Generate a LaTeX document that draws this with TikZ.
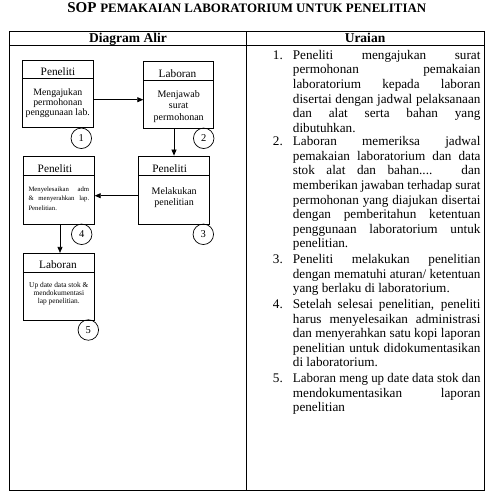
\documentclass[tikz,border=0pt]{standalone}
\usepackage{fontspec}
\setmainfont{Liberation Serif}
\usepackage{graphicx}
\usetikzlibrary{arrows.meta}
\newlength\lw
\newsavebox\jlbox
\newcommand\jl[1]{\sbox\jlbox{#1}\ifdim\wd\jlbox>\lw\hbox{\resizebox{\lw}{\height}{\usebox\jlbox}}\else\hbox to\lw{\unhcopy\jlbox}\fi}
\newcommand\jlast[1]{\hbox{#1}}
\newcommand\itemfont{\fontsize{13.2}{14.6}\selectfont\lw=187.6pt\lineskiplimit=-20pt}
\hbadness=10000
\begin{document}
\begin{tikzpicture}[x=1pt,y=-1pt,
  tbl/.style={line width=1pt},
  boxs/.style={draw, line width=0.8pt, rectangle, inner sep=0pt},
  divl/.style={line width=0.8pt},
  num/.style={draw, circle, line width=0.7pt, minimum size=20.5pt, inner sep=0pt, font=\fontsize{10.5}{12}\selectfont},
  arr/.style={line width=0.7pt, -{Triangle[length=6pt,width=5pt]}},
  hd/.style={anchor=base, inner sep=0pt, font=\fontsize{11.3}{13}\selectfont},
  body/.style={align=center, inner sep=0pt},
  inum/.style={anchor=base west, inner sep=0pt, font=\fontsize{13.2}{14.6}\selectfont},
  itm/.style={anchor=base west, inner sep=0pt},
  colhd/.style={anchor=base, inner sep=0pt, font=\fontsize{13.5}{15}\selectfont\bfseries},
]
\useasboundingbox (0,0) rectangle (488,494);

% title
\node[anchor=base, inner sep=0pt] (title) at (246.8,12.7)
  {\bfseries\fontsize{15}{17}\selectfont SOP \fontsize{12.9}{15}\selectfont PEMAKAIAN LABORATORIUM UNTUK PENELITIAN};

% table
\draw[tbl] (9.3,31.7) rectangle (484.3,490);
\draw[tbl] (9.3,45.7) -- (484.3,45.7);
\draw[tbl] (246.7,31.7) -- (246.7,490);
\node[colhd] (hdl) at (128,42.4) {Diagram Alir};
\node[colhd] (hdr) at (365,42.4) {Uraian};

% boxes
\node[boxs, minimum width=71pt, minimum height=67pt] (b1) at (57.8,93.5) {};
\node[boxs, minimum width=70pt, minimum height=67pt] (b2) at (178.7,94.8) {};
\node[boxs, minimum width=70.6pt, minimum height=68pt] (b3) at (174,190) {};
\node[boxs, minimum width=71.3pt, minimum height=68pt] (b4) at (58.65,190) {};
\node[boxs, minimum width=71pt, minimum height=67pt] (b5) at (58.8,286.8) {};

\draw[divl] ([yshift=-19.3pt]b1.north west) -- ([yshift=-19.3pt]b1.north east);
\draw[divl] ([yshift=-19.4pt]b2.north west) -- ([yshift=-19.4pt]b2.north east);
\draw[divl] ([yshift=-20pt]b3.north west) -- ([yshift=-20pt]b3.north east);
\draw[divl] ([yshift=-20pt]b4.north west) -- ([yshift=-20pt]b4.north east);
\draw[divl] ([yshift=-19pt]b5.north west) -- ([yshift=-19pt]b5.north east);

% box headers
\node[hd] (h1) at (58,75.8) {Peneliti};
\node[hd] (h2) at (177.5,77.2) {Laboran};
\node[hd] (h3) at (169.7,172.5) {Peneliti};
\node[hd] (h4) at (55,172.5) {Peneliti};
\node[hd] (h5) at (58,268.8) {Laboran};

% box bodies
\node[body, font=\fontsize{9.8}{10}\selectfont] (t1) at (57.8,103.3) {Mengajukan\\permohonan\\penggunaan lab.};
\node[body, font=\fontsize{10}{11.3}\selectfont] (t2) at (178.7,106.3) {Menjawab\\surat\\permohonan};
\node[body, font=\fontsize{10}{11}\selectfont] (t3) at (174.2,197.2) {Melakukan\\penelitian};
\node[itm] (t4) at (28.3,191.6) {\vtop{\fontsize{6.7}{9.2}\selectfont\lw=60.7pt\lineskiplimit=-20pt
  \jl{Menyelesaikan adm}\jl{\& menyerahkan lap.}\jlast{Penelitian.}}};
\node[body, font=\fontsize{7.4}{8}\selectfont] (t5) at (58.8,293.8) {Up date data stok \&\\mendokumentasi\\lap penelitian.};

% numbered circles
\node[num] (c1) at (81.3,138.3) {1};
\node[num] (c2) at (203.7,138.3) {2};
\node[num] (c3) at (203.3,234.3) {3};
\node[num] (c4) at (81.7,234.3) {4};
\node[num] (c5) at (88.3,330) {5};

% arrows
\coordinate (a1) at (0,99.7);
\coordinate (a3) at (0,195.7);
\coordinate (a4) at (60,0);
\draw[arr] (b1.east |- a1) -- (b2.west |- a1);
\draw[arr] (b3.north |- b2.south) -- (b3.north);
\draw[arr] (b3.west |- a3) -- (b4.east |- a3);
\draw[arr] (b4.south -| a4) -- (b5.north -| a4);

% description list
\node[inum] (n1) at (272.7,59.3) {1.};
\node[itm] (i1) at (292.7,59.3) {\vtop{\itemfont
  \jl{Peneliti mengajukan surat}
  \jl{permohonan pemakaian}
  \jl{laboratorium kepada laboran}
  \jl{disertai dengan jadwal pelaksanaan}
  \jl{dan alat serta bahan yang}
  \jlast{dibutuhkan.}}};
\node[inum] (n2) at (272.7,145.7) {2.};
\node[itm] (i2) at (292.7,145.7) {\vtop{\itemfont
  \jl{Laboran memeriksa jadwal}
  \jl{pemakaian laboratorium dan data}
  \jl{stok alat dan bahan.... dan}
  \jl{memberikan jawaban terhadap surat}
  \jl{permohonan yang diajukan disertai}
  \jl{dengan pemberitahun ketentuan}
  \jl{penggunaan laboratorium untuk}
  \jlast{penelitian.}}};
\node[inum] (n3) at (272.7,263.7) {3.};
\node[itm] (i3) at (292.7,263.7) {\vtop{\itemfont
  \jl{Peneliti melakukan penelitian}
  \jl{dengan mematuhi aturan/ ketentuan}
  \jlast{yang berlaku di laboratorium.}}};
\node[inum] (n4) at (272.7,308.5) {4.};
\node[itm] (i4) at (292.7,308.5) {\vtop{\itemfont
  \jl{Setelah selesai penelitian, peneliti}
  \jl{harus menyelesaikan administrasi}
  \jl{dan menyerahkan satu kopi laporan}
  \jl{penelitian untuk didokumentasikan}
  \jlast{di laboratorium.}}};
\node[inum] (n5) at (272.7,382.5) {5.};
\node[itm] (i5) at (292.7,382.5) {\vtop{\itemfont
  \jl{Laboran meng up date data stok dan}
  \jl{mendokumentasikan laporan}
  \jlast{penelitian}}};
\end{tikzpicture}
\end{document}
